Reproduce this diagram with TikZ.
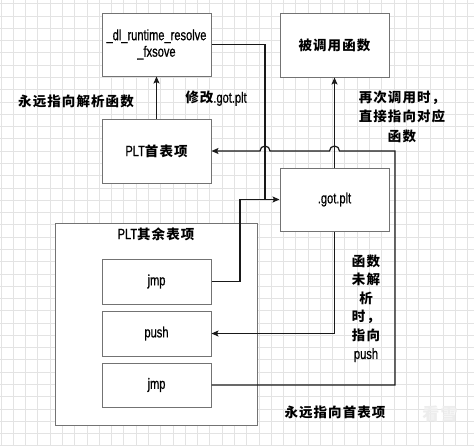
\documentclass[tikz,border=0pt]{standalone}
\usepackage{fontspec}
\setmainfont{Noto Sans CJK SC}
\newfontfamily\cjk[LetterSpace=8]{Noto Sans CJK SC}
\newfontfamily\lat[FakeStretch=0.74,FakeBold=0.7]{Liberation Sans}
\usetikzlibrary{arrows.meta,calc}
\begin{document}
\begin{tikzpicture}[x=1pt,y=-1pt,
  gridline/.style={draw=black!11,line width=0.7pt},
  box/.style={draw=black!55,fill=white,line width=1pt,minimum width=109pt,inner sep=0pt,align=center,font=\lat\fontsize{15}{16.5}\selectfont},
  conn/.style={draw=black!90,line width=1.2pt,-{Stealth[length=7pt,width=6pt,inset=1.5pt]}},
  line/.style={draw=black!90,line width=1.2pt},
  lbl/.style={inner sep=0pt,align=center,font=\cjk\bfseries\fontsize{13.5}{19.5}\selectfont},
  cjkt/.style={font=\cjk\bfseries\fontsize{13.5}{17}\selectfont}]
\useasboundingbox (0,0) rectangle (474,445);
\fill[white] (0,0) rectangle (474,445);
\foreach \i in {0,...,38} \draw[gridline] ({1+12.28*\i},0) -- ({1+12.28*\i},445);
\foreach \j in {0,...,36} \draw[gridline] (0,{3.72+12.28*\j}) -- (474,{3.72+12.28*\j});

% boxes
\node[box,minimum height=63pt] (dl) at (156.5,44.5) {\_dl\_runtime\_resolve\\\_fxsove};
\node[box,minimum height=64pt] (callee) at (334.5,45) {\cjk\bfseries\fontsize{13.5}{17}\selectfont 被调用函数};
\node[box,minimum height=64pt] (plt0) at (156.5,151) {PLT{\cjk\bfseries\fontsize{13.5}{17}\selectfont 首表项}};
\node[box,minimum height=63pt] (got) at (334.5,199.5) {.got.plt};
\node[box,minimum width=202pt,minimum height=202pt] (rest) at (156,324) {};
\node[inner sep=0pt,font=\lat\fontsize{15}{17}\selectfont] (restlbl) at (156,234) {PLT{\cjk\bfseries\fontsize{13.5}{17}\selectfont 其余表项}};
\node[box,minimum height=45pt] (jmp1) at (156.5,281.5) {jmp};
\node[box,minimum height=45pt] (push) at (156.5,333.5) {push};
\node[box,minimum height=44pt] (jmp2) at (156.5,385) {jmp};

% labels
\node[lbl] (l1) at (76,101) {永远指向解析函数};
\node[lbl] (l2) at (216,98.5) {修改{\lat\mdseries\fontsize{15}{17}\selectfont .got.plt}};
\node[lbl] (l3) at (402,116.5) {再次调用时，\\直接指向对应\\函数};
\node[lbl,font=\cjk\bfseries\fontsize{13.5}{18.5}\selectfont] (l4) at (366,308.5) {函数\\未解\\析\\时，\\指向\\{\lat\mdseries\fontsize{15}{17}\selectfont push}};
\node[lbl] (l5) at (335,412.5) {永远指向首表项};
\node[inner sep=0pt,text=black!7,font=\cjk\bfseries\fontsize{17}{17}\selectfont] (wm) at (440,414) {看雪};

% connectors
\draw[conn] (plt0.north) -- (dl.south);
\coordinate (ja) at (265,199.5);
\coordinate (jb) at (240,199.5);
\draw[conn] (dl.east) -| (ja) -- (got.west);
\draw[line] (jmp1.east) -| (jb) -- (ja);
\draw[conn] (got.north) -- (callee.south);
\draw[conn] (got.south) |- (push.east);
\coordinate (r) at (395,151);
\draw[conn] (jmp2.east) -| (r) -- (339.5,151)
  arc[start angle=0,end angle=180,radius=5pt] -- (270,151)
  arc[start angle=0,end angle=180,radius=5pt] -- (plt0.east);
\end{tikzpicture}
\end{document}
